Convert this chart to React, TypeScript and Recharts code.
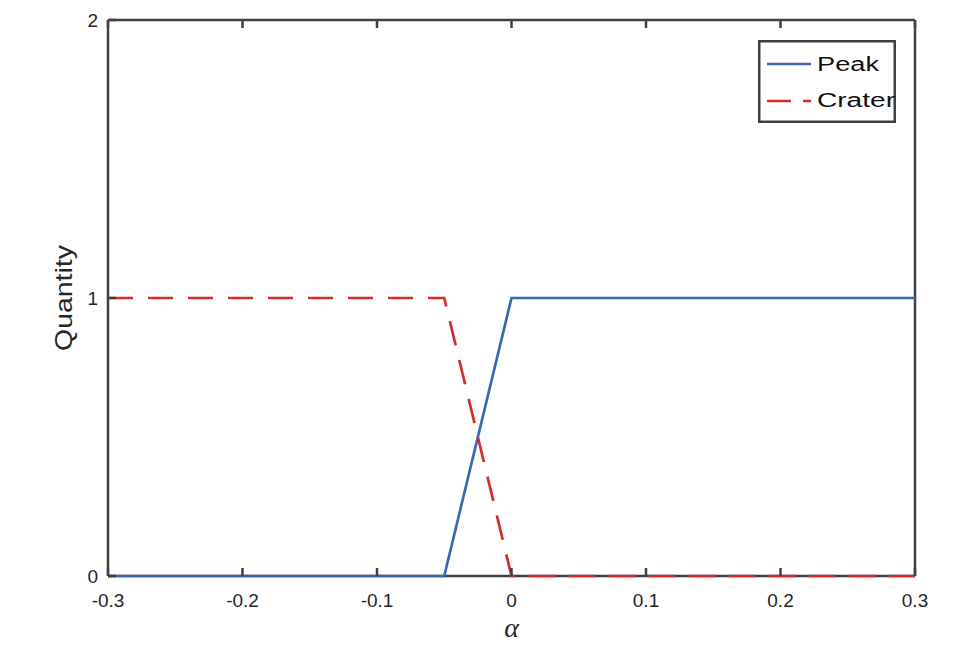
import React from 'react';
import { LineChart, Line, XAxis, YAxis, CartesianGrid } from 'recharts';

const alphaValues = [-0.3, -0.05, 0, 0.3];
const peakValues = [0, 0, 1, 1];
const craterValues = [1, 1, 0, 0];
const xTicks = [-0.3, -0.2, -0.1, 0, 0.1, 0.2, 0.3];
const xTickLabels = ['-0.3', '-0.2', '-0.1', '0', '0.1', '0.2', '0.3'];
const yTicks = [0, 1, 2];
const yTickLabels = ['0', '1', '2'];
const seriesNames = ['Peak', 'Crater'];

const data = alphaValues.map((a, i) => ({ alpha: a, peak: peakValues[i], crater: craterValues[i] }));

const AXIS = '#404040';
const TEXT = '#262626';
const BLUE = '#3A68B0';
const RED = '#D62C2C';
const TICK_LEN = 8;
const FONT = '"Liberation Sans", Arial, Helvetica, sans-serif';

function labelFor(ticks: number[], labels: string[], v: number) {
  const i = ticks.findIndex((t) => Math.abs(t - v) < 1e-9);
  return i >= 0 ? labels[i] : String(v);
}

const BottomTick = (props: any) => {
  const { x, y, payload } = props;
  return (
    <g>
      <line x1={x} y1={y} x2={x} y2={y - TICK_LEN} stroke={AXIS} strokeWidth={2.5} />
      <text x={x} y={y + 31} textAnchor="middle" fontSize={19} fill={TEXT} fontFamily={FONT}>
        {labelFor(xTicks, xTickLabels, payload.value)}
      </text>
    </g>
  );
};

const TopTick = (props: any) => {
  const { x, y } = props;
  return <line x1={x} y1={y} x2={x} y2={y + TICK_LEN} stroke={AXIS} strokeWidth={2.5} />;
};

const LeftTick = (props: any) => {
  const { x, y, payload } = props;
  return (
    <g>
      <line x1={x} y1={y} x2={x + TICK_LEN} y2={y} stroke={AXIS} strokeWidth={2.5} />
      <text x={x - 10} y={y} dy="0.36em" textAnchor="end" fontSize={19} fill={TEXT} fontFamily={FONT}>
        {labelFor(yTicks, yTickLabels, payload.value)}
      </text>
    </g>
  );
};

const RightTick = (props: any) => {
  const { x, y } = props;
  return <line x1={x} y1={y} x2={x - TICK_LEN} y2={y} stroke={AXIS} strokeWidth={2.5} />;
};

const YLabel = (props: any) => {
  const vb = props.viewBox;
  const cx = vb.x + 72;
  const cy = vb.y + vb.height / 2;
  return (
    <text
      x={cx}
      y={cy}
      textAnchor="middle"
      transform={`rotate(-90, ${cx}, ${cy})`}
      fontSize={24}
      textLength={106}
      lengthAdjust="spacingAndGlyphs"
      fill={TEXT}
      fontFamily={FONT}
    >
      Quantity
    </text>
  );
};

const XLabel = (props: any) => {
  const vb = props.viewBox;
  const cx = vb.x + vb.width / 2;
  return (
    <text
      x={cx}
      y={vb.y + 61}
      textAnchor="middle"
      fontSize={28}
      fontStyle="italic"
      fill={TEXT}
      fontFamily='"Liberation Serif", "Times New Roman", serif'
    >
      α
    </text>
  );
};

const LegendBox = () => (
  <svg width={138} height={83} style={{ position: 'absolute', left: 758, top: 40 }}>
    <rect x={1.25} y={1.25} width={135.5} height={80.5} fill="#fff" stroke={AXIS} strokeWidth={2.5} />
    <line x1={9} y1={24} x2={53} y2={24} stroke={BLUE} strokeWidth={2.5} />
    <text x={59} y={30.5} fontSize={20} textLength={62} lengthAdjust="spacingAndGlyphs" fill="#111" fontFamily={FONT}>
      {seriesNames[0]}
    </text>
    <line x1={9} y1={61} x2={53} y2={61} stroke={RED} strokeWidth={2.5} strokeDasharray="24 12" />
    <text x={59} y={67} fontSize={20} textLength={78} lengthAdjust="spacingAndGlyphs" fill="#111" fontFamily={FONT}>
      {seriesNames[1]}
    </text>
  </svg>
);

const frameH = ({ offset }: any) => [offset.top, offset.top + offset.height];
const frameV = ({ offset }: any) => [offset.left, offset.left + offset.width];

export default function App() {
  return (
    <div style={{ position: 'absolute', left: 0, top: 0, width: 961, height: 665, background: '#fff' }}>
      <LineChart width={961} height={665} data={data} margin={{ top: 0, right: 0, bottom: 0, left: 0 }}>
        <CartesianGrid
          stroke={AXIS}
          strokeWidth={2.5}
          fill="none"
          horizontalCoordinatesGenerator={frameH}
          verticalCoordinatesGenerator={frameV}
        />
        <XAxis
          dataKey="alpha"
          type="number"
          domain={[-0.3, 0.3]}
          ticks={xTicks}
          interval={0}
          height={89}
          tickSize={0}
          tickMargin={0}
          tickLine={false}
          axisLine={false}
          tick={<BottomTick />}
          label={<XLabel />}
        />
        <XAxis
          xAxisId="top"
          orientation="top"
          dataKey="alpha"
          type="number"
          domain={[-0.3, 0.3]}
          ticks={xTicks}
          interval={0}
          height={20}
          tickSize={0}
          tickMargin={0}
          tickLine={false}
          axisLine={false}
          tick={<TopTick />}
        />
        <YAxis
          type="number"
          domain={[0, 2]}
          ticks={yTicks}
          interval={0}
          width={108}
          tickSize={0}
          tickMargin={0}
          tickLine={false}
          axisLine={false}
          tick={<LeftTick />}
          label={<YLabel />}
        />
        <YAxis
          yAxisId="right"
          orientation="right"
          type="number"
          domain={[0, 2]}
          ticks={yTicks}
          interval={0}
          width={46}
          tickSize={0}
          tickMargin={0}
          tickLine={false}
          axisLine={false}
          tick={<RightTick />}
        />
        <Line
          type="linear"
          dataKey="peak"
          name={seriesNames[0]}
          stroke={BLUE}
          strokeWidth={2.7}
          dot={false}
          activeDot={false}
          isAnimationActive={false}
        />
        <Line
          type="linear"
          dataKey="crater"
          name={seriesNames[1]}
          stroke={RED}
          strokeWidth={2.7}
          strokeDasharray="25 15"
          dot={false}
          activeDot={false}
          isAnimationActive={false}
        />
      </LineChart>
      <LegendBox />
    </div>
  );
}
